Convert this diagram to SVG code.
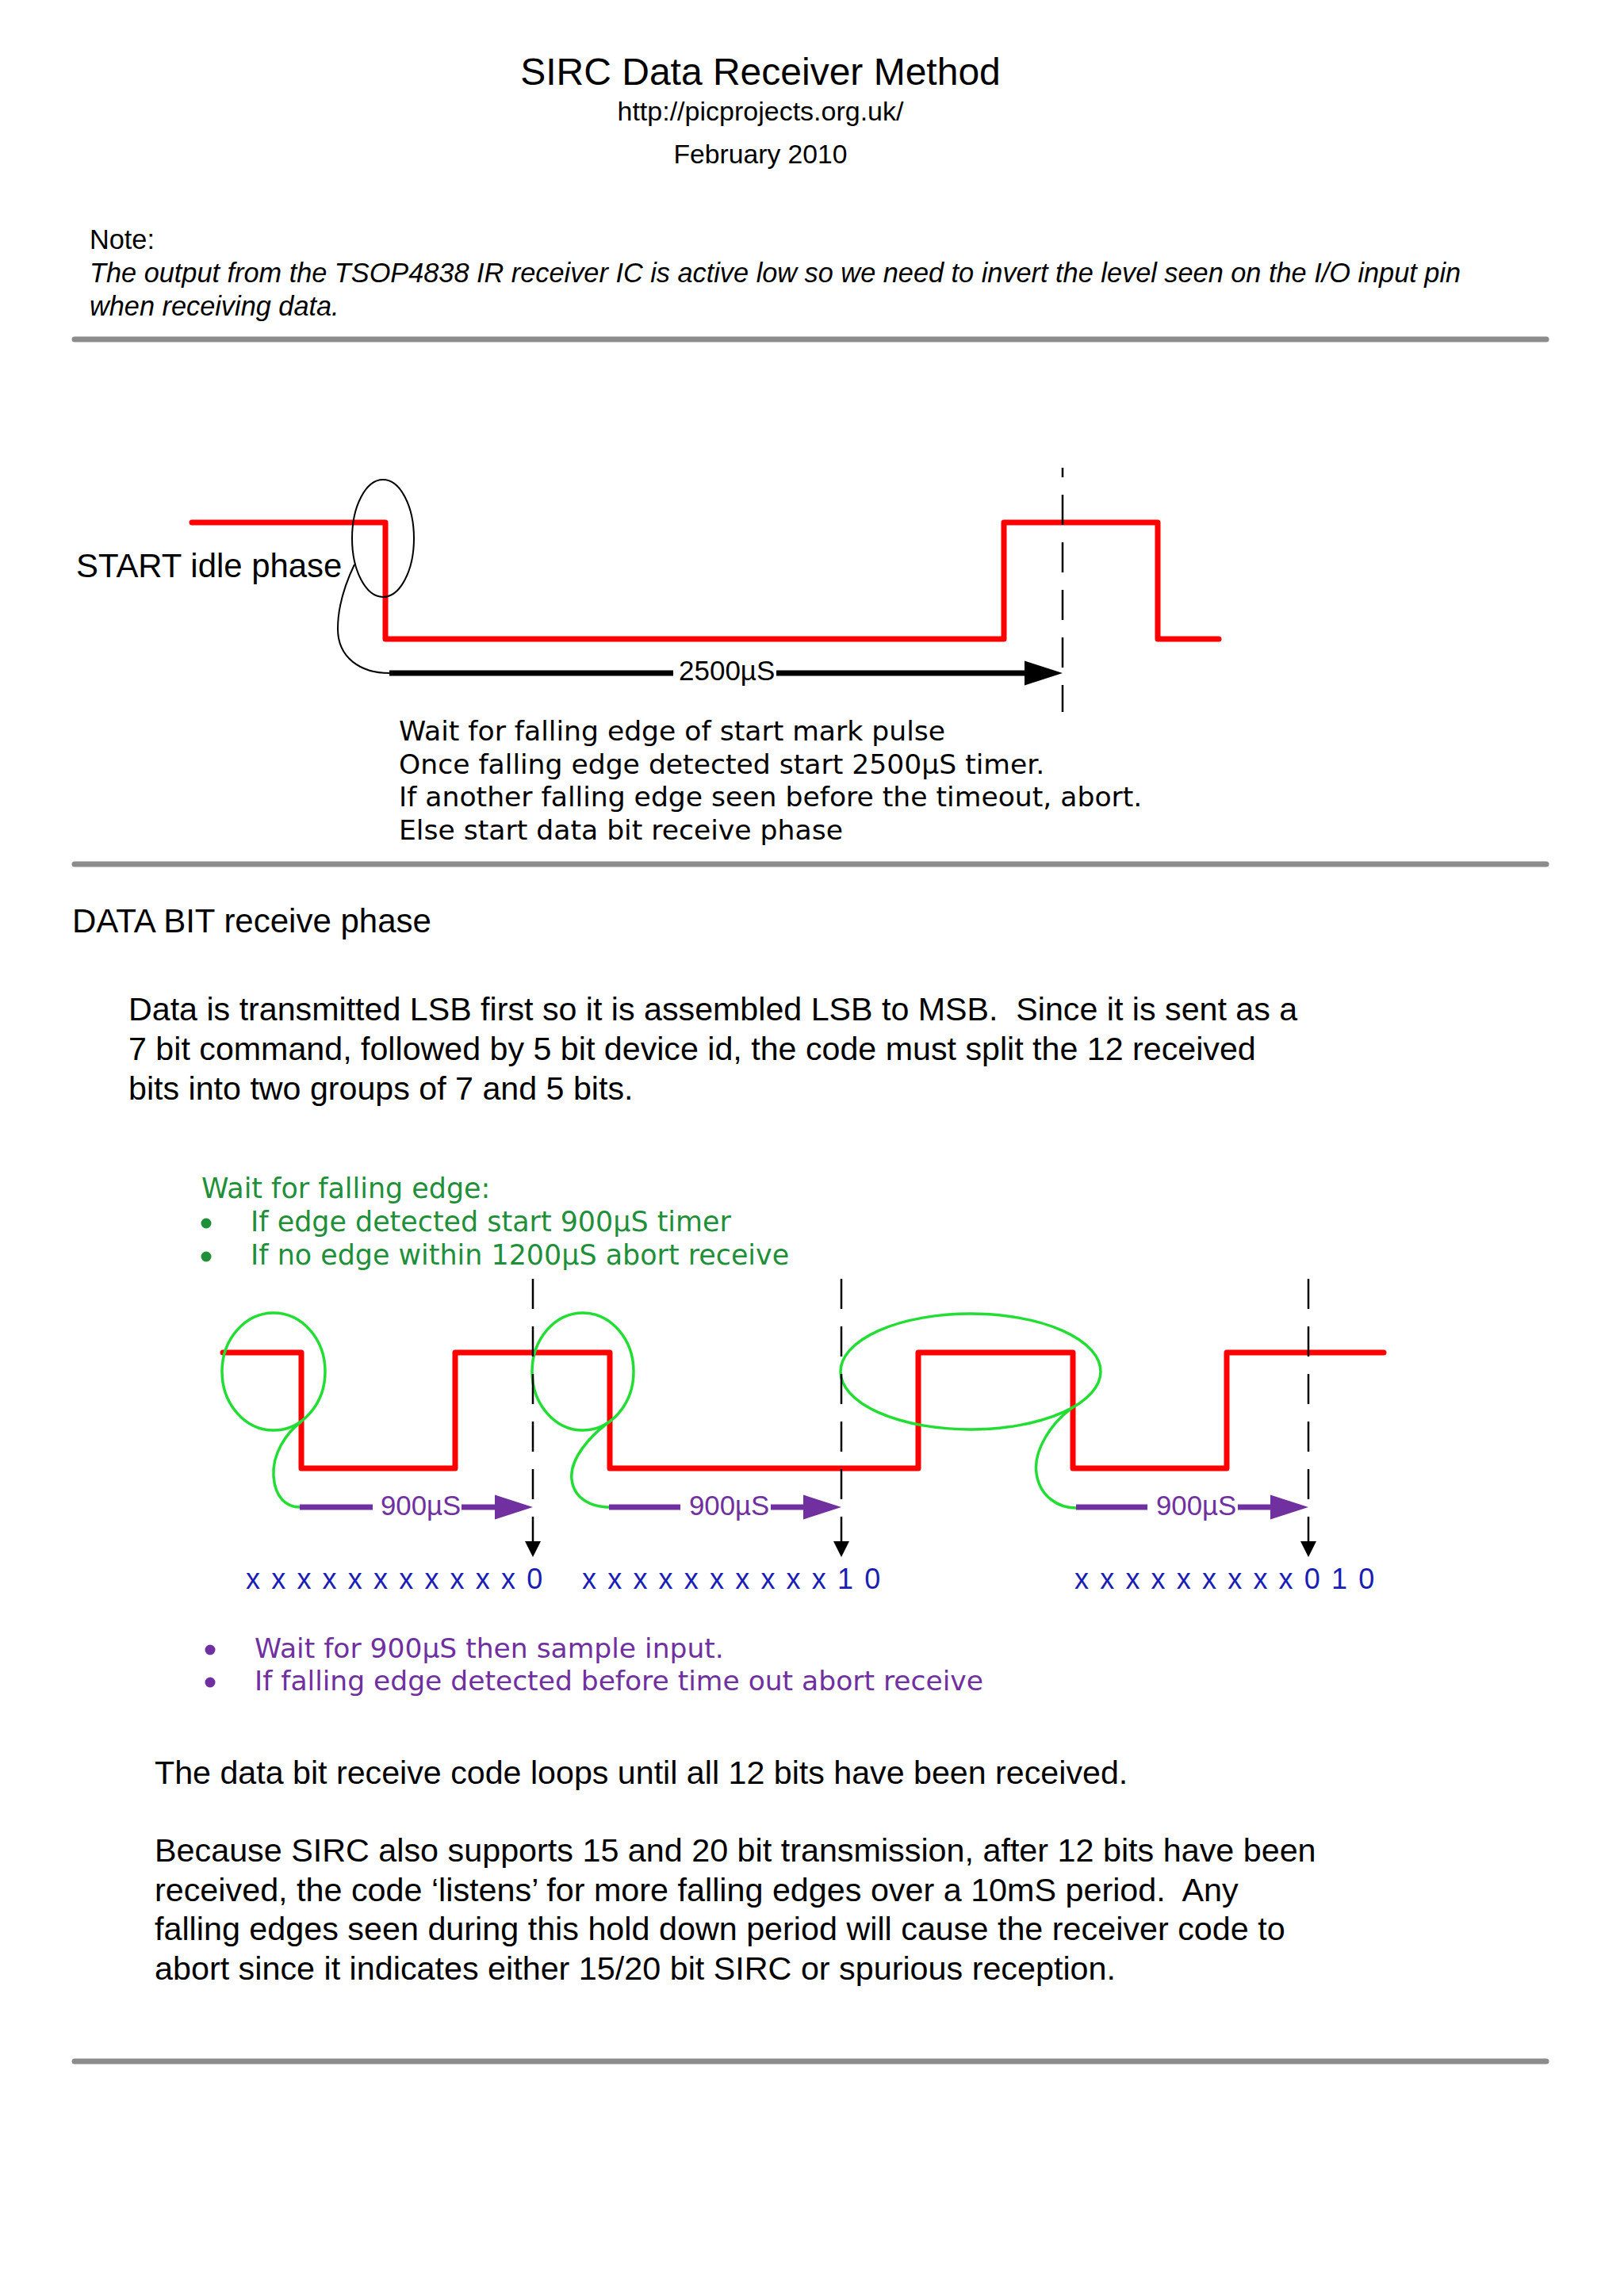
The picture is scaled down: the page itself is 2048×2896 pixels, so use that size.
<svg xmlns="http://www.w3.org/2000/svg" width="2048" height="2896" viewBox="0 0 2048 2896">
<defs>
<style>
.ar{font-family:"Liberation Sans",Arial,sans-serif;fill:#000}
.dv{font-family:"DejaVu Sans",Verdana,sans-serif;fill:#000}
.sep{stroke:#8c8c8c;stroke-width:7;stroke-linecap:round;fill:none}
.sig{stroke:#ff0000;stroke-width:7;fill:none;stroke-linejoin:round;stroke-linecap:round}
.gring{stroke:#22dd33;stroke-width:3.5;fill:none}
.dash{stroke:#000;stroke-width:2.5;fill:none;stroke-dasharray:38 22}
.purp{stroke:#7030a0;stroke-width:7;fill:none}
.green{fill:#1f8f3a}
.violet{fill:#7030a0}
.blue{font-family:"Liberation Sans",Arial,sans-serif;fill:#1a1eb5;font-size:36px;letter-spacing:2.1px}
</style>
<marker id="pHead" markerUnits="userSpaceOnUse" markerWidth="50" markerHeight="34" refX="0" refY="15.5" orient="auto" overflow="visible">
<path d="M0,0 L48,15.5 L0,31 z" fill="#7030a0"/>
</marker>
<marker id="kHead" markerUnits="userSpaceOnUse" markerWidth="50" markerHeight="34" refX="0" refY="15.5" orient="auto" overflow="visible">
<path d="M0,0 L48,15.5 L0,31 z" fill="#000"/>
</marker>
<marker id="sHead" markerUnits="userSpaceOnUse" markerWidth="22" markerHeight="22" refX="0" refY="10" orient="auto" overflow="visible">
<path d="M0,0 L20,10 L0,20 z" fill="#000"/>
</marker>
</defs>
<rect x="0" y="0" width="2048" height="2896" fill="#ffffff"/>

<g id="header">
<text class="ar" x="959" y="107" font-size="48" text-anchor="middle">SIRC Data Receiver Method</text>
<text class="ar" x="959" y="152" font-size="34" text-anchor="middle">http://picprojects.org.uk/</text>
<text class="ar" x="959" y="206" font-size="33.7" text-anchor="middle">February 2010</text>
</g>

<g id="note">
<text class="ar" x="113" y="314" font-size="34.3">Note:</text>
<text class="ar" x="113" y="356" font-size="34.3" font-style="italic">The output from the TSOP4838 IR receiver IC is active low so we need to invert the level seen on the I/O input pin</text>
<text class="ar" x="113" y="398" font-size="34.3" font-style="italic">when receiving data.</text>
</g>

<g id="separators">
<line class="sep" x1="94" y1="428" x2="1950" y2="428"/>
<line class="sep" x1="94" y1="1090" x2="1950" y2="1090"/>
<line class="sep" x1="94" y1="2600" x2="1950" y2="2600"/>
</g>

<g id="start-phase">
<text class="ar" x="96" y="728" font-size="41.9">START idle phase</text>
<path class="sig" d="M242,659 H486 V806 H1266 V659 H1460 V806 H1537"/>
<ellipse cx="483" cy="679" rx="39" ry="74" fill="none" stroke="#000" stroke-width="2"/>
<text class="ar" x="856" y="858" font-size="35">2500µS</text>
<text class="dv" font-size="34.6">
<tspan x="503" y="934">Wait for falling edge of start mark pulse</tspan>
<tspan x="503" y="975.5">Once falling edge detected start 2500µS timer.</tspan>
<tspan x="503" y="1017">If another falling edge seen before the timeout, abort.</tspan>
<tspan x="503" y="1058.5">Else start data bit receive phase</tspan>
</text>
</g>

<g id="data-bit-heading">
<text class="ar" x="91" y="1176" font-size="42">DATA BIT receive phase</text>
<text class="ar" font-size="41.2" xml:space="preserve"><tspan x="162" y="1287">Data is transmitted LSB first so it is assembled LSB to MSB.  Since it is sent as a</tspan><tspan x="162" y="1337">7 bit command, followed by 5 bit device id, the code must split the 12 received</tspan><tspan x="162" y="1387">bits into two groups of 7 and 5 bits.</tspan></text>
</g>

<g id="green-note">
<text class="dv green" x="254" y="1511" font-size="34.9">Wait for falling edge:</text>
<circle cx="260" cy="1543" r="6.5" fill="#1f8f3a"/>
<text class="dv green" x="316" y="1553" font-size="34.9">If edge detected start 900µS timer</text>
<circle cx="260" cy="1585" r="6.5" fill="#1f8f3a"/>
<text class="dv green" x="316" y="1595" font-size="34.9">If no edge within 1200µS abort receive</text>
</g>

<g id="data-waveform">
<path class="sig" d="M281,1706 H380 V1852 H574 V1706 H769 V1852 H1158 V1706 H1353 V1852 H1547 V1706 H1745"/>
<ellipse class="gring" cx="345" cy="1730" rx="65" ry="74"/>
<ellipse class="gring" cx="735" cy="1730" rx="64" ry="74"/>
<ellipse class="gring" cx="1224" cy="1730" rx="164" ry="73"/>
<text class="ar violet" x="480" y="1911" font-size="34.8">900µS</text>
<text class="ar violet" x="869" y="1911" font-size="34.8">900µS</text>
<text class="ar violet" x="1458" y="1911" font-size="34.8">900µS</text>
</g>

<g id="bit-labels">
<text class="blue" x="310" y="2004">x x x x x x x x x x x 0</text>
<text class="blue" x="734" y="2004">x x x x x x x x x x 1 0</text>
<text class="blue" x="1355" y="2004">x x x x x x x x x 0 1 0</text>
</g>

<g id="connectors">
<path d="M447,712 C436,735 426,765 426,793 C426,830 455,849 491,849" fill="none" stroke="#000" stroke-width="2"/>
<line x1="491" y1="849" x2="849" y2="849" stroke="#000" stroke-width="7"/>
<line x1="979" y1="849" x2="1292" y2="849" stroke="#000" stroke-width="7" marker-end="url(#kHead)"/>
<line class="dash" x1="1340" y1="590" x2="1340" y2="898" stroke-dashoffset="26"/>

<path d="M380,1793 C360,1808 343,1835 345,1862 C347,1890 362,1901 378,1901" class="gring"/>
<path d="M769,1793 C745,1810 718,1840 721,1866 C724,1892 748,1901 768,1901" class="gring"/>
<path d="M1353,1775 C1325,1795 1303,1830 1307,1858 C1311,1888 1335,1902 1357,1902" class="gring"/>

<line class="purp" x1="378" y1="1901" x2="470" y2="1901"/>
<line class="purp" x1="582" y1="1901" x2="624" y2="1901" marker-end="url(#pHead)"/>
<line class="purp" x1="768" y1="1901" x2="858" y2="1901"/>
<line class="purp" x1="972" y1="1901" x2="1013" y2="1901" marker-end="url(#pHead)"/>
<line class="purp" x1="1357" y1="1901" x2="1447" y2="1901"/>
<line class="purp" x1="1561" y1="1901" x2="1602" y2="1901" marker-end="url(#pHead)"/>

<line class="dash" x1="672" y1="1613" x2="672" y2="1944" marker-end="url(#sHead)"/>
<line class="dash" x1="1061" y1="1613" x2="1061" y2="1944" marker-end="url(#sHead)"/>
<line class="dash" x1="1650" y1="1613" x2="1650" y2="1944" marker-end="url(#sHead)"/>
</g>

<g id="purple-note">
<circle cx="265" cy="2081" r="6.5" fill="#7030a0"/>
<text class="dv violet" x="321" y="2091" font-size="34.5">Wait for 900µS then sample input.</text>
<circle cx="265" cy="2122" r="6.5" fill="#7030a0"/>
<text class="dv violet" x="321" y="2132" font-size="34.5">If falling edge detected before time out abort receive</text>
</g>

<g id="closing-text">
<text class="ar" x="195" y="2250" font-size="41.2">The data bit receive code loops until all 12 bits have been received.</text>
<text class="ar" font-size="41.3" xml:space="preserve"><tspan x="195" y="2348">Because SIRC also supports 15 and 20 bit transmission, after 12 bits have been</tspan><tspan x="195" y="2398">received, the code ‘listens’ for more falling edges over a 10mS period.  Any</tspan><tspan x="195" y="2447">falling edges seen during this hold down period will cause the receiver code to</tspan><tspan x="195" y="2497">abort since it indicates either 15/20 bit SIRC or spurious reception.</tspan></text>
</g>
</svg>
